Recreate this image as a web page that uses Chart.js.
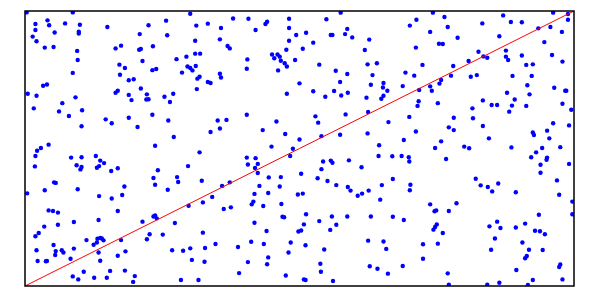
<!DOCTYPE html>
<html>
<head>
<meta charset="utf-8">
<script src="https://cdn.jsdelivr.net/npm/chart.js@4.4.1/dist/chart.umd.min.js"></script>
<style>
  html, body { margin: 0; padding: 0; background: #fff; }
  #chart { display: block; }
</style>
</head>
<body>
<canvas id="chart" width="608" height="306"></canvas>
<script>
// Scatter point positions (axes run 0..1)
const pointX = [
  0.003,0.087,0.041,0.019,0.044,0.073,0.100,0.150,0.225,0.019,0.054,0.098,0.098,0.014,0.021,0.209,0.036,0.052,0.095,0.165,0.175,0.208,0.211,0.233,0.096,0.214,0.172,0.182,0.232,0.239,0.087,0.173,0.189,0.198,0.033,0.040,0.211,0.005,0.021,0.092,0.165,0.169,0.189,0.222,0.194,0.221,0.225,0.016,0.068,0.062,0.104,0.080,0.147,0.158,0.189,0.232,0.103,0.205,0.043,0.237,
  0.301,0.257,0.379,0.407,0.312,0.333,0.357,0.438,0.441,0.481,0.481,0.420,0.259,0.494,0.310,0.355,0.481,0.369,0.373,0.476,0.276,0.294,0.310,0.319,0.405,0.450,0.460,0.464,0.454,0.466,0.473,0.477,0.492,0.296,0.301,0.305,0.311,0.286,0.404,0.461,0.355,0.357,0.314,0.318,0.333,0.338,0.500,0.270,0.254,0.264,0.313,0.477,0.404,0.261,0.351,0.367,0.458,0.355,0.338,0.433,0.474,0.271,0.500,0.449,
  0.575,0.549,0.743,0.713,0.701,0.512,0.557,0.560,0.587,0.583,0.596,0.525,0.627,0.738,0.506,0.619,0.712,0.754,0.536,0.624,0.641,0.724,0.566,0.587,0.633,0.693,0.709,0.574,0.630,0.653,0.652,0.660,0.688,0.525,0.563,0.547,0.576,0.588,0.622,0.653,0.649,0.718,0.738,0.741,0.755,0.758,0.717,0.715,0.752,0.625,0.584,0.529,0.534,0.662,0.700,0.712,0.540,0.574,0.624,0.645,0.690,0.758,
  0.764,0.770,0.833,0.871,0.885,0.905,0.962,0.989,0.989,0.761,0.788,0.864,0.935,0.957,0.978,0.946,0.826,0.835,0.842,0.876,0.876,0.880,0.905,0.960,0.979,0.808,0.780,0.913,0.925,0.776,0.812,0.823,0.888,0.923,0.915,0.964,0.984,0.986,0.878,0.919,0.834,0.850,0.860,0.892,0.887,0.913,0.979,0.815,0.882,0.995,0.781,0.816,0.772,0.781,0.834,0.925,0.927,0.951,0.962,0.991,0.845,0.955,0.800,0.886,0.975,
  0.029,0.022,0.019,0.018,0.084,0.103,0.129,0.137,0.144,0.094,0.103,0.101,0.131,0.135,0.157,0.169,0.242,0.234,0.237,0.053,0.056,0.096,0.036,0.004,0.181,0.177,0.135,0.158,0.043,0.051,0.060,0.169,0.234,0.237,0.240,0.214,0.060,0.089,0.134,0.035,0.025,0.019,0.227,0.222,0.112,0.132,0.137,0.140,0.143,0.131,0.125,0.175,0.052,0.021,0.056,0.055,0.067,0.070,0.089,0.134,0.183,0.169,0.083,0.023,0.038,0.040,0.137,0.107,0.155,0.182,0.087,0.097,0.126,0.149,0.200,0.197,
  0.318,0.488,0.404,0.420,0.406,0.424,0.419,0.424,0.483,0.297,0.277,0.279,0.322,0.444,0.466,0.503,0.359,0.373,0.427,0.464,0.260,0.341,0.324,0.298,0.418,0.443,0.416,0.413,0.434,0.467,0.497,0.362,0.375,0.469,0.472,0.273,0.418,0.251,0.324,0.440,0.498,0.503,0.268,0.288,0.301,0.328,0.347,0.388,0.412,0.435,0.484,0.304,0.327,0.406,0.443,0.441,0.480,0.390,0.475,0.284,0.316,
  0.747,0.543,0.557,0.560,0.590,0.644,0.669,0.686,0.699,0.700,0.540,0.613,0.533,0.551,0.567,0.588,0.593,0.606,0.614,0.626,0.650,0.670,0.702,0.701,0.647,0.506,0.738,0.746,0.749,0.512,0.559,0.587,0.630,0.670,0.690,0.536,0.508,0.567,0.556,0.750,0.747,0.744,0.511,0.545,0.625,0.653,0.658,0.725,0.752,0.725,0.538,0.539,0.628,0.642,0.661,0.688,0.508,0.511,0.561,
  0.809,0.942,0.767,0.922,0.931,0.951,0.950,0.939,0.939,0.991,0.821,0.830,0.843,0.851,0.862,0.894,0.969,0.973,0.786,0.772,0.997,0.997,0.936,0.761,0.846,0.860,0.866,0.894,0.911,0.929,0.938,0.947,0.856,0.906,0.849,0.918,0.943,0.914,0.911,0.975,0.973,0.770,0.895,0.979,0.925,0.772,0.842,0.864,0.916
];
const pointY = [
  0.995,0.995,0.966,0.953,0.948,0.955,0.950,0.942,0.948,0.931,0.922,0.925,0.918,0.907,0.890,0.916,0.867,0.869,0.855,0.864,0.874,0.859,0.862,0.872,0.822,0.818,0.805,0.793,0.785,0.789,0.775,0.768,0.748,0.752,0.728,0.733,0.718,0.699,0.692,0.686,0.703,0.710,0.695,0.697,0.676,0.678,0.679,0.646,0.665,0.635,0.639,0.618,0.606,0.592,0.612,0.623,0.581,0.578,0.514,0.510,
  0.990,0.965,0.973,0.972,0.947,0.954,0.938,0.953,0.961,0.972,0.938,0.931,0.912,0.913,0.892,0.897,0.892,0.873,0.864,0.859,0.825,0.834,0.845,0.845,0.824,0.842,0.842,0.834,0.828,0.819,0.810,0.798,0.822,0.798,0.793,0.784,0.800,0.776,0.790,0.784,0.772,0.758,0.754,0.761,0.742,0.738,0.737,0.699,0.688,0.669,0.716,0.699,0.623,0.602,0.602,0.604,0.598,0.573,0.560,0.567,0.553,0.542,0.533,0.507,
  0.994,0.970,0.994,0.968,0.947,0.921,0.913,0.913,0.935,0.916,0.904,0.885,0.896,0.924,0.863,0.858,0.867,0.881,0.805,0.806,0.810,0.804,0.783,0.771,0.767,0.776,0.765,0.742,0.732,0.738,0.722,0.710,0.727,0.708,0.709,0.688,0.693,0.703,0.685,0.692,0.681,0.713,0.726,0.710,0.736,0.749,0.672,0.655,0.665,0.633,0.624,0.617,0.594,0.596,0.615,0.562,0.545,0.550,0.555,0.512,0.531,0.526,
  0.978,0.942,0.955,0.984,0.960,0.959,0.994,0.989,0.968,0.880,0.903,0.908,0.937,0.942,0.924,0.887,0.852,0.835,0.830,0.856,0.834,0.822,0.838,0.840,0.816,0.818,0.800,0.804,0.806,0.765,0.761,0.767,0.764,0.764,0.730,0.721,0.710,0.710,0.703,0.697,0.675,0.658,0.658,0.678,0.656,0.655,0.663,0.646,0.634,0.641,0.612,0.610,0.577,0.567,0.582,0.558,0.549,0.565,0.592,0.584,0.537,0.537,0.507,0.504,0.505,
  0.502,0.492,0.473,0.435,0.467,0.468,0.473,0.456,0.447,0.439,0.433,0.424,0.430,0.436,0.418,0.428,0.421,0.393,0.368,0.377,0.375,0.352,0.348,0.337,0.362,0.331,0.327,0.318,0.275,0.273,0.267,0.273,0.253,0.257,0.246,0.234,0.223,0.233,0.240,0.216,0.193,0.181,0.188,0.170,0.167,0.172,0.175,0.173,0.166,0.158,0.150,0.167,0.149,0.130,0.127,0.113,0.130,0.122,0.136,0.122,0.126,0.110,0.099,0.091,0.090,0.091,0.092,0.052,0.055,0.056,0.035,0.024,0.030,0.030,0.036,0.015,
  0.486,0.499,0.467,0.465,0.442,0.444,0.429,0.411,0.473,0.436,0.396,0.378,0.383,0.395,0.396,0.408,0.364,0.377,0.364,0.362,0.350,0.324,0.304,0.292,0.335,0.338,0.307,0.297,0.291,0.298,0.333,0.280,0.286,0.252,0.250,0.229,0.230,0.187,0.194,0.200,0.198,0.202,0.130,0.128,0.137,0.138,0.153,0.142,0.161,0.153,0.158,0.095,0.088,0.087,0.104,0.079,0.122,0.047,0.038,0.022,0.022,
  0.502,0.453,0.456,0.448,0.457,0.473,0.472,0.473,0.468,0.453,0.425,0.432,0.392,0.382,0.367,0.360,0.347,0.328,0.336,0.347,0.367,0.389,0.368,0.348,0.314,0.336,0.297,0.272,0.275,0.261,0.253,0.253,0.253,0.252,0.240,0.236,0.224,0.223,0.204,0.224,0.215,0.205,0.148,0.133,0.165,0.162,0.135,0.152,0.154,0.099,0.081,0.052,0.072,0.063,0.045,0.073,0.024,0.022,0.018,
  0.501,0.502,0.462,0.468,0.486,0.467,0.459,0.441,0.412,0.444,0.390,0.366,0.360,0.344,0.373,0.341,0.384,0.332,0.301,0.273,0.307,0.261,0.259,0.193,0.217,0.234,0.211,0.213,0.227,0.201,0.199,0.188,0.173,0.158,0.132,0.132,0.131,0.109,0.101,0.078,0.069,0.046,0.058,0.024,0.022,0.005,0.005,0.012,0.004
];

// Reference line y = x
const lineX = [0, 1];
const lineY = [0, 1];

const axisMin = 0;
const axisMax = 1;

// Black frame around the plot area
const frameBox = {
    id: 'frameBox',
    afterDraw(chart) {
        const { ctx, chartArea } = chart;
        ctx.save();
        ctx.strokeStyle = '#000';
        ctx.lineWidth = 1.5;
        ctx.strokeRect(chartArea.left, chartArea.top,
            chartArea.right - chartArea.left, chartArea.bottom - chartArea.top);
        ctx.restore();
    }
};

const scatterData = pointX.map((x, i) => ({ x: x, y: pointY[i] }));
const lineData = lineX.map((x, i) => ({ x: x, y: lineY[i] }));

new Chart(document.getElementById('chart'), {
    type: 'scatter',
    data: {
        datasets: [
            {
                type: 'line',
                label: 'y = x',
                data: lineData,
                borderColor: 'rgb(255, 0, 0)',
                borderWidth: 1,
                pointRadius: 0,
                fill: false
            },
            {
                label: 'points',
                data: scatterData,
                backgroundColor: 'rgb(0, 0, 255)',
                borderWidth: 0,
                pointRadius: 2.2
            }
        ]
    },
    options: {
        responsive: false,
        animation: false,
        layout: {
            padding: { left: 25, top: 11, right: 34, bottom: 20 }
        },
        plugins: {
            legend: { display: false },
            tooltip: { enabled: false }
        },
        scales: {
            x: { type: 'linear', min: axisMin, max: axisMax, display: false },
            y: { type: 'linear', min: axisMin, max: axisMax, display: false }
        }
    },
    plugins: [frameBox]
});
</script>
</body>
</html>
